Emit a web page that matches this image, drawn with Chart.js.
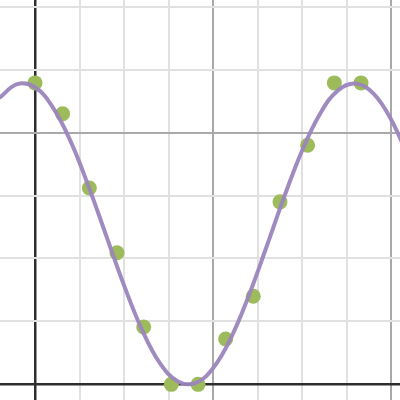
<!DOCTYPE html>
<html>
<head>
<meta charset="utf-8">
<script src="https://cdn.jsdelivr.net/npm/chart.js@4/dist/chart.umd.min.js"></script>
<style>
html,body{margin:0;padding:0;background:#fff;}
canvas{display:block;}
</style>
</head>
<body>
<canvas id="c" width="400" height="400"></canvas>
<script>
// Observed data points (day of year, value)
const pointDays   = [0, 31, 61, 92, 122, 153, 183, 214, 245, 275, 306, 336, 366];
const pointValues = [4.79, 4.30, 3.12, 2.09, 0.91, 0.00, 0.00, 0.72, 1.40, 2.90, 3.80, 4.79, 4.79];

// Fitted curve
const curveDays   = [-40, -20, 0, 20, 40, 60, 80, 100, 120, 140, 160, 180, 200, 220, 240, 260, 280, 300, 320, 340, 360, 380, 400, 420];
const curveValues = [4.55, 4.77, 4.72, 4.40, 3.86, 3.15, 2.36, 1.57, 0.87, 0.34, 0.05, 0.02, 0.26, 0.74, 1.41, 2.19, 2.99, 3.72, 4.30, 4.67, 4.78, 4.62, 4.20, 3.58];

// Grid lines (minor every step, major lines listed separately)
const xGrid  = [0, 50, 100, 150, 200, 250, 300, 350, 400];
const xMajor = [200, 400];
const yGrid  = [0, 1, 2, 3, 4, 5, 6];
const yMajor = [4];

// Visible window
const xMin = -39.3, xMax = 409.7;
const yMin = -0.249, yMax = 6.107;

const toXY = (xs, ys) => xs.map((x, i) => ({x: x, y: ys[i]}));

function gridColor(major) {
  return ctx => {
    const v = ctx.tick ? ctx.tick.value : null;
    if (v === null) return 'rgba(0,0,0,0)';
    if (v === 0) return '#2e2e2e';
    if (major.includes(v)) return '#a9a9a9';
    return '#e1e1e1';
  };
}
function gridWidth() {
  return ctx => {
    const v = ctx.tick ? ctx.tick.value : null;
    if (v === 0) return 2.5;
    return 2;
  };
}

new Chart(document.getElementById('c'), {
  type: 'scatter',
  data: {
    datasets: [
      {
        label: 'fit',
        data: toXY(curveDays, curveValues),
        showLine: true,
        borderColor: 'rgba(155,133,189,0.95)',
        borderWidth: 4,
        pointRadius: 0,
        pointHoverRadius: 0,
        tension: 0.4,
        fill: false
      },
      {
        label: 'data',
        data: toXY(pointDays, pointValues),
        showLine: false,
        pointRadius: 7.5,
        pointBorderWidth: 0,
        pointBackgroundColor: '#9dbb5b',
        pointBorderColor: '#9dbb5b'
      }
    ]
  },
  options: {
    responsive: false,
    animation: false,
    layout: {padding: 0, autoPadding: false},
    plugins: {legend: {display: false}, tooltip: {enabled: false}, title: {display: false}},
    scales: {
      x: {
        type: 'linear',
        min: xMin, max: xMax,
        border: {display: false},
        grid: {drawTicks: false, color: gridColor(xMajor), lineWidth: gridWidth()},
        ticks: {display: false},
        afterBuildTicks: axis => { axis.ticks = xGrid.map(v => ({value: v})); }
      },
      y: {
        type: 'linear',
        min: yMin, max: yMax,
        border: {display: false},
        grid: {drawTicks: false, color: gridColor(yMajor), lineWidth: gridWidth()},
        ticks: {display: false},
        afterBuildTicks: axis => { axis.ticks = yGrid.map(v => ({value: v})); }
      }
    }
  }
});
</script>
</body>
</html>
